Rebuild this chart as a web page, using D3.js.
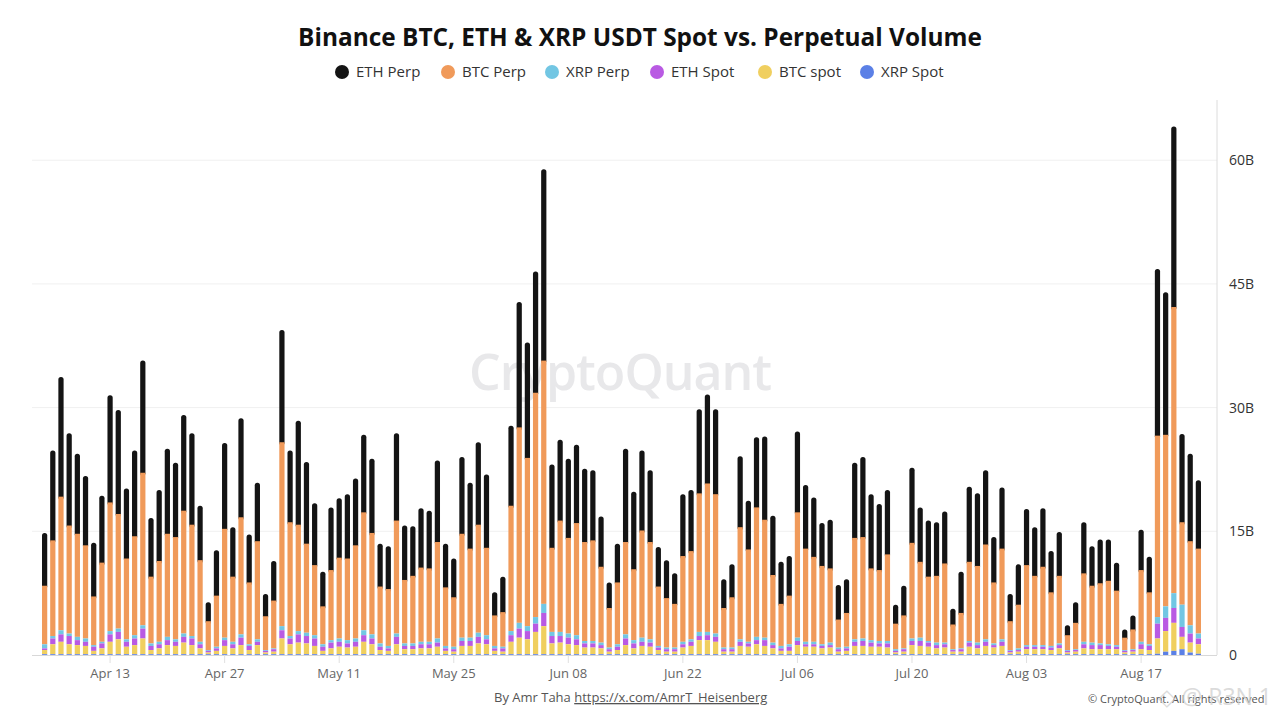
<!DOCTYPE html>
<html lang="en">
<head>
<meta charset="utf-8">
<script src="https://cdn.jsdelivr.net/npm/d3@7"></script>
<style>
  body { margin: 0; background: #fff; }
  text { font-family: "Open Sans", "Noto Sans", sans-serif; }
</style>
</head>
<body>
<script>
    var w = 1280, h = 720;

    // daily bars, Apr 05 .. Aug 24 (values in billions USDT)
    var startDate = new Date(2024, 3, 5);

    var ethPerp = [6.4,10.9,14.5,11.2,9.7,8.4,6.5,8.1,13.0,12.6,8.5,10.4,13.6,7.1,8.6,10.3,9.0,11.6,11.1,6.6,
        2.3,5.5,10.4,6.0,12.0,5.8,7.1,2.7,4.8,13.6,8.7,12.6,9.9,7.5,4.2,7.6,7.2,7.8,8.1,9.4,
        9.0,5.2,5.2,10.6,6.6,6.0,7.2,7.0,9.9,5.3,4.7,9.3,8.0,10.0,8.9,2.8,4.3,9.7,15.2,14.0,
        14.7,23.2,10.1,9.8,9.6,9.5,8.9,8.5,6.1,3.1,4.7,11.3,9.4,9.7,8.7,4.8,4.6,3.7,7.5,7.4,
        10.2,10.8,10.3,3.5,4.0,8.6,5.9,8.5,10.1,7.2,5.1,4.8,9.8,7.7,7.2,5.2,5.9,4.2,4.1,9.1,
        9.7,9.0,8.0,7.8,2.3,3.6,9.1,6.6,6.8,6.5,6.3,1.9,5.0,9.1,8.8,9.0,5.5,7.4,3.3,4.9,
        6.8,5.9,7.1,5.0,5.3,1.2,2.5,6.2,4.8,5.3,5.0,3.4,1.0,1.7,4.9,4.3,20.2,17.3,21.9,10.7,
        10.6,8.3];
    var btcPerp = [7.1,11.6,16.2,13.1,12.5,11.3,5.9,9.6,15.6,13.9,9.8,12.0,18.5,8.1,9.8,12.5,12.4,14.9,13.5,9.9,
        3.5,6.2,13.2,7.9,14.2,7.5,11.9,4.1,5.8,22.3,13.8,12.9,10.8,8.5,4.6,8.5,9.8,9.9,11.3,14.3,
        12.3,6.9,6.9,13.7,7.7,8.2,9.0,8.9,11.7,7.1,6.0,12.6,10.8,13.1,10.6,3.7,4.2,15.2,23.7,20.4,
        27.2,29.5,10.2,13.5,11.6,13.6,12.0,12.2,9.2,4.8,7.5,11.2,8.6,13.0,11.8,7.2,6.0,5.3,10.4,10.7,
        16.8,18.0,16.9,4.8,6.1,13.6,11.2,15.7,14.3,8.2,5.1,5.9,15.2,11.3,10.3,9.5,9.0,3.4,4.1,12.3,
        12.3,8.7,8.6,10.5,3.1,4.0,11.6,9.2,7.8,8.1,9.6,3.0,4.3,9.6,9.3,11.5,7.4,11.0,3.5,5.3,
        9.7,8.4,9.5,6.5,8.2,1.8,3.2,8.3,6.9,7.3,7.7,6.6,1.5,2.4,8.7,6.3,22.0,20.8,34.7,10.0,
        10.2,10.3];
    var xrpPerp = [0.5,0.3,0.5,0.3,0.4,0.4,0.2,0.2,0.4,0.4,0.3,0.4,0.4,0.3,0.3,0.4,0.3,0.4,0.3,0.3,
        0.1,0.2,0.3,0.3,0.4,0.2,0.3,0.1,0.1,0.5,0.3,0.4,0.4,0.4,0.3,0.3,0.4,0.4,0.4,0.6,
        0.5,0.4,0.3,0.4,0.3,0.3,0.3,0.3,0.5,0.3,0.3,0.4,0.4,0.5,0.5,0.3,0.2,0.5,0.7,0.6,
        0.8,1.1,0.5,0.5,0.5,0.5,0.3,0.3,0.3,0.2,0.3,0.5,0.4,0.5,0.4,0.2,0.2,0.2,0.3,0.3,
        0.5,0.4,0.4,0.2,0.2,0.3,0.2,0.4,0.3,0.3,0.3,0.3,0.4,0.3,0.3,0.2,0.3,0.2,0.2,0.3,
        0.3,0.3,0.3,0.3,0.2,0.1,0.3,0.4,0.2,0.3,0.2,0.1,0.1,0.2,0.3,0.3,0.2,0.3,0.1,0.2,
        0.2,0.2,0.2,0.2,0.2,0.1,0.1,0.3,0.3,0.2,0.2,0.2,0.1,0.1,0.3,0.2,0.8,1.4,1.8,2.7,
        1.0,0.6];
    var ethSpot = [0.2,0.7,0.9,1.0,0.6,0.5,0.5,0.6,0.9,0.9,0.6,0.8,1.2,0.5,0.5,0.6,0.5,0.7,0.8,0.5,
        0.2,0.3,0.7,0.5,0.9,0.5,0.4,0.2,0.3,1.0,0.7,1.0,0.9,0.9,0.5,0.7,0.6,0.5,0.6,0.8,
        0.7,0.4,0.3,0.9,0.4,0.4,0.5,0.5,0.5,0.3,0.3,0.6,0.6,0.8,0.6,0.3,0.4,0.8,1.1,1.0,
        1.0,1.6,0.9,0.8,0.8,0.7,0.5,0.5,0.4,0.3,0.4,0.8,0.6,0.5,0.5,0.3,0.3,0.3,0.4,0.5,
        0.5,0.6,0.6,0.3,0.3,0.5,0.4,0.5,0.7,0.4,0.3,0.5,0.5,0.3,0.3,0.3,0.3,0.3,0.3,0.5,
        0.6,0.5,0.4,0.5,0.2,0.3,0.5,0.6,0.5,0.4,0.4,0.2,0.3,0.5,0.4,0.5,0.3,0.5,0.2,0.2,
        0.3,0.3,0.3,0.3,0.4,0.2,0.2,0.5,0.5,0.5,0.4,0.3,0.2,0.2,0.6,0.5,1.8,1.6,1.8,1.2,
        1.1,0.7];
    var btcSpot = [0.5,1.2,1.5,1.2,1.1,1.0,0.4,0.7,1.5,1.8,0.9,1.1,1.9,0.5,0.7,1.1,1.0,1.4,1.1,0.7,
        0.2,0.4,1.0,0.7,1.1,0.5,1.1,0.2,0.3,1.9,1.2,1.4,1.3,1.0,0.4,0.7,0.9,0.8,0.9,1.5,
        1.2,0.5,0.4,1.2,0.6,0.6,0.7,0.7,0.9,0.4,0.3,1.0,1.0,1.3,1.2,0.4,0.3,1.5,2.0,1.8,
        2.7,3.4,1.3,1.4,1.2,1.1,0.8,0.8,0.7,0.3,0.5,1.1,0.7,1.0,0.9,0.5,0.3,0.3,0.8,1.0,
        1.7,1.7,1.5,0.3,0.3,1.0,0.9,1.2,1.0,0.7,0.4,0.4,1.1,0.9,0.9,0.7,0.8,0.3,0.4,1.0,
        1.0,0.9,0.9,0.8,0.2,0.3,1.1,1.0,0.9,0.7,0.8,0.3,0.3,0.9,0.7,1.0,0.8,1.0,0.2,0.3,
        0.6,0.6,0.6,0.5,0.7,0.2,0.3,0.7,0.6,0.6,0.6,0.6,0.2,0.3,0.6,0.5,1.85,2.5,3.4,1.5,
        1.2,1.15];
    var xrpSpot = [0.1,0.1,0.1,0.1,0.1,0.1,0.1,0.1,0.1,0.1,0.1,0.1,0.1,0.1,0.1,0.1,0.1,0.1,0.1,0.1,
        0.1,0.1,0.1,0.1,0.1,0.1,0.1,0.1,0.1,0.1,0.1,0.1,0.1,0.1,0.1,0.1,0.1,0.1,0.1,0.1,
        0.1,0.1,0.1,0.1,0.1,0.1,0.1,0.1,0.1,0.1,0.1,0.1,0.1,0.1,0.1,0.1,0.1,0.1,0.1,0.1,
        0.1,0.1,0.1,0.1,0.1,0.1,0.1,0.1,0.1,0.1,0.1,0.1,0.1,0.1,0.1,0.1,0.1,0.1,0.1,0.1,
        0.1,0.1,0.1,0.1,0.1,0.1,0.1,0.1,0.1,0.1,0.1,0.1,0.1,0.1,0.1,0.1,0.1,0.1,0.1,0.1,
        0.1,0.1,0.1,0.1,0.1,0.1,0.1,0.1,0.1,0.1,0.1,0.1,0.1,0.1,0.1,0.1,0.1,0.1,0.1,0.1,
        0.1,0.1,0.1,0.1,0.1,0.1,0.1,0.1,0.1,0.1,0.1,0.1,0.1,0.1,0.1,0.1,0.15,0.4,0.5,0.7,
        0.3,0.15];

    var yTicks = [0, 15, 30, 45, 60];
    var xTickLabels = ['Apr 13','Apr 27','May 11','May 25','Jun 08','Jun 22','Jul 06','Jul 20','Aug 03','Aug 17'];

    // legend order (top of stack first) and stacking order (bottom first)
    var series = [
        {key: 'ethPerp', name: 'ETH Perp', color: '#141414'},
        {key: 'btcPerp', name: 'BTC Perp', color: '#f09a5a'},
        {key: 'xrpPerp', name: 'XRP Perp', color: '#72c6e3'},
        {key: 'ethSpot', name: 'ETH Spot', color: '#b95ae3'},
        {key: 'btcSpot', name: 'BTC spot', color: '#f0cf5f'},
        {key: 'xrpSpot', name: 'XRP Spot', color: '#5b80e6'}
    ];
    var stackKeys = ['xrpSpot', 'btcSpot', 'ethSpot', 'xrpPerp', 'btcPerp', 'ethPerp'];
    var colorOf = {};
    series.forEach(function(s) { colorOf[s.key] = s.color; });

    var fmt = d3.timeFormat('%b %d');
    var table = ethPerp.map(function(v, i) {
        return {
            date: d3.timeDay.offset(startDate, i),
            ethPerp: ethPerp[i], btcPerp: btcPerp[i], xrpPerp: xrpPerp[i],
            ethSpot: ethSpot[i], btcSpot: btcSpot[i], xrpSpot: xrpSpot[i]
        };
    });

    var svg = d3.select('body').append('svg').attr('width', w).attr('height', h);

    var plotTop = 100, plotBottom = 655, gridLeft = 32, axisX = 1217;

    var x = d3.scaleBand()
        .domain(table.map(function(d) { return fmt(d.date); }))
        .range([42, 1201])
        .paddingInner(0.36);

    var y = d3.scaleLinear().domain([0, 67.3]).range([plotBottom, plotTop]);

    // gridlines
    svg.append('g').selectAll('line')
        .data(yTicks.slice(1))
        .enter().append('line')
        .attr('x1', gridLeft).attr('x2', axisX)
        .attr('y1', function(d) { return y(d); })
        .attr('y2', function(d) { return y(d); })
        .attr('stroke', '#f0f0f0').attr('stroke-width', 1);

    // watermark
    svg.append('text')
        .attr('x', 620).attr('y', 390)
        .attr('text-anchor', 'middle')
        .attr('font-size', '50px')
        .attr('font-weight', 600)
        .attr('fill', '#e8e8ea')
        .attr('letter-spacing', '-1')
        .text('CryptoQuant');

    // right axis
    svg.append('line')
        .attr('x1', axisX).attr('x2', axisX)
        .attr('y1', plotTop).attr('y2', plotBottom)
        .attr('stroke', '#dcdcdc');

    svg.append('g').selectAll('text')
        .data(yTicks)
        .enter().append('text')
        .attr('x', 1229)
        .attr('y', function(d) { return y(d); })
        .attr('dy', '0.35em')
        .attr('font-size', '14px')
        .attr('fill', '#333')
        .text(function(d) { return d === 0 ? '0' : d + 'B'; });

    // bottom axis
    var xAxis = d3.axisBottom(x)
        .tickValues(xTickLabels)
        .tickSize(8)
        .tickPadding(6)
        .tickSizeOuter(0);
    var gx = svg.append('g')
        .attr('transform', 'translate(0,' + plotBottom + ')')
        .call(xAxis);
    gx.select('.domain').attr('stroke', '#d8d8d8').attr('d', 'M' + gridLeft + ',0.5H' + axisX);
    gx.selectAll('.tick line').attr('stroke', '#e0e0e0');
    gx.selectAll('.tick text')
        .attr('font-size', '13px')
        .attr('fill', '#666')
        .attr('font-family', '"Open Sans", sans-serif');

    // stacked bars
    var stacked = d3.stack().keys(stackKeys)(table);
    var layers = svg.append('g').selectAll('g')
        .data(stacked.slice().reverse())
        .enter().append('g')
        .attr('fill', function(d) { return colorOf[d.key]; });

    layers.selectAll('rect')
        .data(function(d) { return d.map(function(p) { p.key = d.key; return p; }); })
        .enter().append('rect')
        .attr('x', function(d) { return x(fmt(d.data.date)); })
        .attr('width', x.bandwidth())
        .attr('y', function(d) { return y(d[1]); })
        .attr('height', function(d) {
            var hh = y(d[0]) - y(d[1]);
            return d.key === 'ethPerp' ? hh + 3 : hh;
        })
        .attr('rx', function(d) { return d.key === 'ethPerp' ? 2.5 : 0; });

    // title
    svg.append('text')
        .attr('x', 640).attr('y', 46)
        .attr('text-anchor', 'middle')
        .attr('font-size', '24.4px')
        .attr('font-weight', 'bold')
        .attr('fill', '#111')
        .text('Binance BTC, ETH & XRP USDT Spot vs. Perpetual Volume');

    // legend
    var legendX = [342, 448, 552, 657, 765, 867];
    var lg = svg.append('g').selectAll('g')
        .data(series)
        .enter().append('g')
        .attr('transform', function(d, i) { return 'translate(' + legendX[i] + ',72)'; });
    lg.append('circle').attr('r', 7).attr('fill', function(d) { return d.color; });
    lg.append('text')
        .attr('x', 14).attr('dy', '0.35em')
        .attr('font-size', '15px')
        .attr('fill', '#333')
        .text(function(d) { return d.name; });

    // footer
    var foot = svg.append('text')
        .attr('x', 494).attr('y', 702)
        .attr('font-size', '13px')
        .attr('fill', '#555');
    foot.append('tspan').text('By Amr Taha ');
    foot.append('tspan').attr('text-decoration', 'underline').text('https://x.com/AmrT_Heisenberg');

    svg.append('text')
        .attr('x', 1088).attr('y', 703)
        .attr('font-size', '11px')
        .attr('fill', '#555')
        .text('\u00a9 CryptoQuant. All rights reserved');

    // overlaid repost mark at the bottom right corner
    svg.append('text')
        .attr('x', 1272).attr('y', 705)
        .attr('text-anchor', 'end')
        .attr('font-size', '23px')
        .attr('fill', '#cfcfcf')
        .attr('opacity', 0.75)
        .text('\u25C7 @ R3N 1');
</script>
</body>
</html>
